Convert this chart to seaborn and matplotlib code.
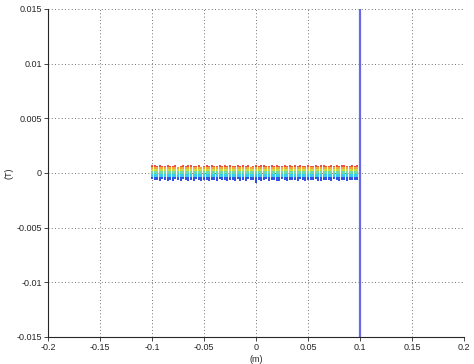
import matplotlib
matplotlib.use("Agg")
import matplotlib.pyplot as plt
import seaborn as sns
import pandas as pd

# stem positions along the path (m)
stem_x = [-0.1, -0.0975, -0.095, -0.0925, -0.09, -0.0875, -0.085, -0.0825, -0.08, -0.0775,
          -0.075, -0.0725, -0.07, -0.0675, -0.065, -0.0625, -0.06, -0.0575, -0.055, -0.0525,
          -0.05, -0.0475, -0.045, -0.0425, -0.04, -0.0375, -0.035, -0.0325, -0.03, -0.0275,
          -0.025, -0.0225, -0.02, -0.0175, -0.015, -0.0125, -0.01, -0.0075, -0.005, -0.0025,
          0.0, 0.0025, 0.005, 0.0075, 0.01, 0.0125, 0.015, 0.0175, 0.02, 0.0225,
          0.025, 0.0275, 0.03, 0.0325, 0.035, 0.0375, 0.04, 0.0425, 0.045, 0.0475,
          0.05, 0.0525, 0.055, 0.0575, 0.06, 0.0625, 0.065, 0.0675, 0.07, 0.0725,
          0.075, 0.0775, 0.08, 0.0825, 0.085, 0.0875, 0.09, 0.0925, 0.095, 0.0975, 0.1]
# upper end of each stem (T)
stem_top = [0.00070, 0.00072, 0.00065, 0.00071, 0.00068, 0.00060, 0.00073, 0.00066, 0.00062, 0.00070,
            0.00058, 0.00067, 0.00072, 0.00061, 0.00069, 0.00074, 0.00063, 0.00066, 0.00071, 0.00059,
            0.00068, 0.00073, 0.00064, 0.00070, 0.00062, 0.00067, 0.00071, 0.00060, 0.00069, 0.00065,
            0.00072, 0.00061, 0.00068, 0.00074, 0.00063, 0.00070, 0.00066, 0.00072, 0.00059, 0.00068,
            0.00071, 0.00064, 0.00069, 0.00073, 0.00062, 0.00067, 0.00070, 0.00065, 0.00072, 0.00060,
            0.00068, 0.00071, 0.00063, 0.00069, 0.00066, 0.00073, 0.00061, 0.00070, 0.00067, 0.00064,
            0.00072, 0.00068, 0.00062, 0.00071, 0.00065, 0.00069, 0.00073, 0.00060, 0.00067, 0.00070,
            0.00066, 0.00072, 0.00063, 0.00069, 0.00071, 0.00064, 0.00068, 0.00073, 0.00066, 0.00070, 0.00072]
# lower end of each stem (T)
stem_bottom = [-0.00055, -0.00068, -0.00060, -0.00072, -0.00058, -0.00066, -0.00070, -0.00062, -0.00075, -0.00059,
               -0.00067, -0.00071, -0.00057, -0.00064, -0.00069, -0.00061, -0.00073, -0.00058, -0.00066, -0.00070,
               -0.00063, -0.00068, -0.00076, -0.00060, -0.00065, -0.00071, -0.00058, -0.00067, -0.00062, -0.00074,
               -0.00060, -0.00066, -0.00070, -0.00057, -0.00069, -0.00063, -0.00072, -0.00059, -0.00065, -0.00068,
               -0.00090, -0.00061, -0.00070, -0.00064, -0.00058, -0.00073, -0.00066, -0.00062, -0.00069, -0.00071,
               -0.00058, -0.00065, -0.00072, -0.00060, -0.00067, -0.00063, -0.00070, -0.00059, -0.00066, -0.00074,
               -0.00061, -0.00068, -0.00064, -0.00057, -0.00069, -0.00072, -0.00060, -0.00066, -0.00063, -0.00070,
               -0.00058, -0.00067, -0.00071, -0.00062, -0.00065, -0.00069, -0.00060, -0.00064, -0.00068, -0.00061, -0.00066]

# colour bands (jet-like) along the stems
band_edges = [-0.0010, -0.00035, -0.00005, 0.00015, 0.00035, 0.00055, 0.0010]
band_colors = ["#2040e0", "#20c8f0", "#60d8a0", "#c8d830", "#f0a020", "#e84030"]

# vertical boundary line
wall_x = [0.1, 0.1]
wall_y = [-0.015, 0.015]

xticks = [-0.2, -0.15, -0.1, -0.05, 0, 0.05, 0.1, 0.15, 0.2]
xticklabels = ["-0.2", "-0.15", "-0.1", "-0.05", "0", "0.05", "0.1", "0.15", "0.2"]
yticks = [-0.015, -0.01, -0.005, 0, 0.005, 0.01, 0.015]
yticklabels = ["-0.015", "-0.01", "-0.005", "0", "0.005", "0.01", "0.015"]

sns.set_style("ticks")
plt.rcParams["font.family"] = ["Liberation Sans", "DejaVu Sans"]

fig = plt.figure(figsize=(4.74, 3.64), dpi=100)
ax = fig.add_axes([48 / 474, 27 / 364, 416 / 474, 328 / 364])

# stems, drawn band by band
for lo, hi, col in zip(band_edges[:-1], band_edges[1:], band_colors):
    xs, y0, y1 = [], [], []
    for x, t, b in zip(stem_x, stem_top, stem_bottom):
        a = max(b, lo)
        c = min(t, hi)
        if c > a:
            xs.append(x)
            y0.append(a)
            y1.append(c)
    ax.vlines(xs, y0, y1, colors=col, linewidth=1.3)

wall = pd.DataFrame({"x": wall_x, "y": wall_y})
sns.lineplot(data=wall, x="x", y="y", sort=False, estimator=None,
             color="#6a6ae8", linewidth=1.6, ax=ax)

ax.set_xlim(-0.2, 0.2)
ax.set_ylim(-0.015, 0.015)
ax.set_xticks(xticks)
ax.set_xticklabels(xticklabels)
ax.set_yticks(yticks)
ax.set_yticklabels(yticklabels)
ax.grid(True, linestyle=(0, (1, 3)), color="#444444", linewidth=0.6)
ax.tick_params(labelsize=6.5, length=3, width=0.6, pad=1.5)
ax.set_xlabel("(m)", fontsize=6.5, labelpad=2)
ax.set_ylabel("(T)", fontsize=6.5, labelpad=2)
for s in ["top", "right"]:
    ax.spines[s].set_visible(False)
for s in ["left", "bottom"]:
    ax.spines[s].set_linewidth(0.8)

fig.savefig("out.png", dpi=100)
